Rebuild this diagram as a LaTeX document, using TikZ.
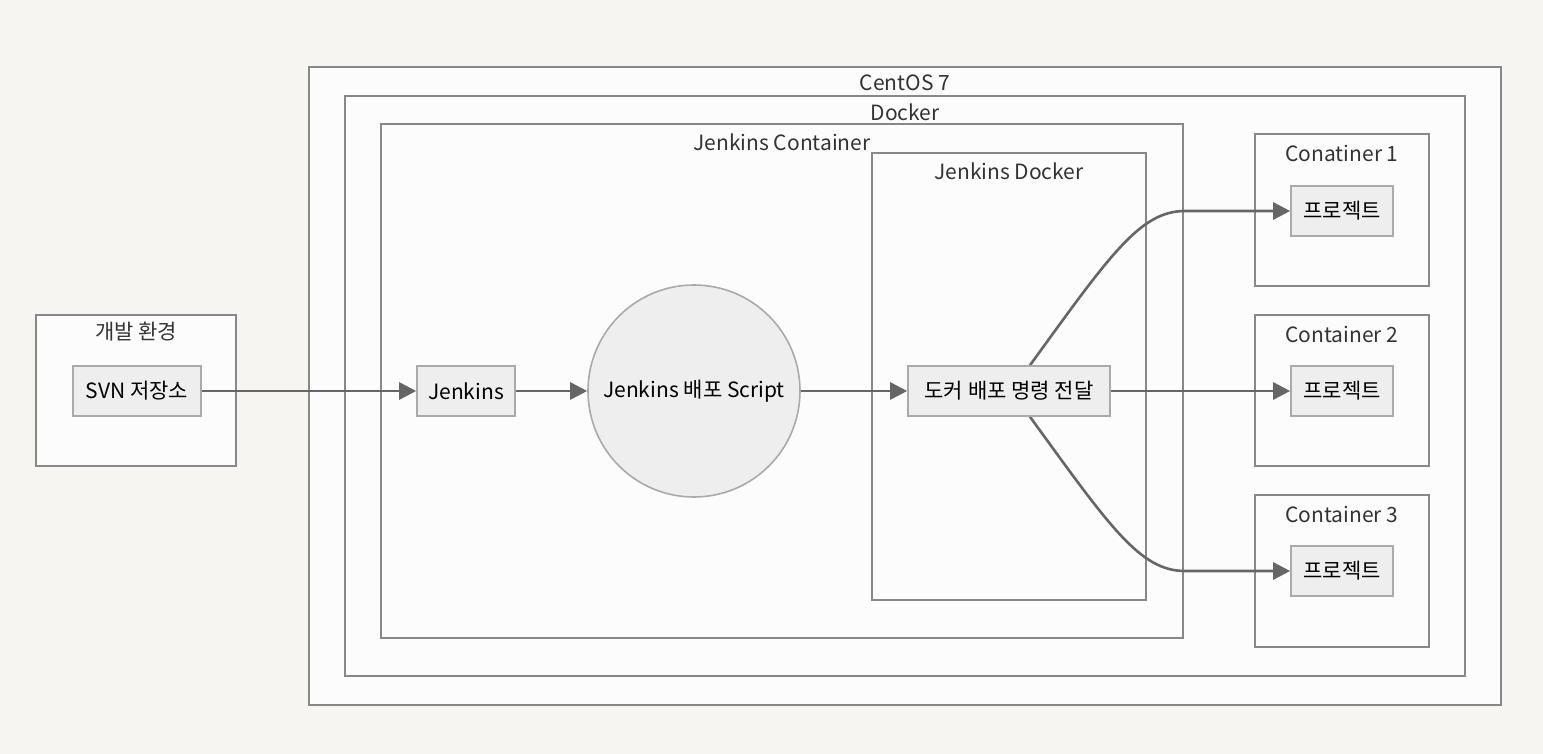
\documentclass[tikz,border=0pt]{standalone}
\usepackage{fontspec}
\setmainfont{Noto Sans CJK KR}
\usetikzlibrary{arrows.meta}
\definecolor{bgc}{HTML}{F6F5F1}
\definecolor{clfill}{HTML}{FCFCFC}
\definecolor{clline}{HTML}{888888}
\definecolor{ndfill}{HTML}{EEEEEE}
\definecolor{ndline}{HTML}{AAAAAA}
\definecolor{edgec}{HTML}{666666}
\definecolor{txtc}{HTML}{333333}
\tikzset{
  cluster/.style={draw=clline, fill=clfill, line width=1.6pt},
  cllabel/.style={anchor=center, text=txtc, font=\fontsize{21pt}{23pt}\selectfont, inner sep=0pt},
  box/.style={draw=ndline, fill=ndfill, line width=1.6pt, rectangle, inner sep=0pt, font=\fontsize{21pt}{23pt}\selectfont, text=black},
  flow/.style={draw=edgec, line width=2.6pt, -{Triangle[length=17pt,width=17pt]}},
}
\begin{document}
\begin{tikzpicture}[x=1pt,y=-1pt]
\fill[bgc] (0,0) rectangle (1543,754);
\useasboundingbox (0,0) rectangle (1543,754);
% clusters
\draw[cluster] (309,67) rectangle (1501,705);
\node[cllabel] (lcentos) at (905,83) {CentOS 7};
\draw[cluster] (345,96) rectangle (1465,676);
\node[cllabel] (ldocker) at (905,112) {Docker};
\draw[cluster] (381,124) rectangle (1183,638);
\node[cllabel] (ljc) at (782,142) {Jenkins Container};
\draw[cluster] (872,153) rectangle (1146,600);
\node[cllabel] (ljd) at (1009,171) {Jenkins Docker};
\draw[cluster] (36,315) rectangle (236,466);
\node[cllabel] (ldev) at (136,332) {개발 환경};
\draw[cluster] (1255,134) rectangle (1429,286);
\node[cllabel] (lc1) at (1342,153) {Conatiner 1};
\draw[cluster] (1255,315) rectangle (1429,466);
\node[cllabel] (lc2) at (1342,334) {Container 2};
\draw[cluster] (1255,495) rectangle (1429,647);
\node[cllabel] (lc3) at (1342,514) {Container 3};
% nodes
\node[box, minimum width=128pt, minimum height=50pt] (svn) at (137,391) {SVN 저장소};
\node[box, minimum width=98pt, minimum height=50pt] (jenkins) at (466,391) {Jenkins};
\node[box, circle, minimum size=212pt] (script) at (694,391) {Jenkins 배포 Script};
\node[box, minimum width=202pt, minimum height=50pt] (cmd) at (1009,391) {도커 배포 명령 전달};
\node[box, minimum width=102pt, minimum height=50pt] (p1) at (1342,211) {프로젝트};
\node[box, minimum width=102pt, minimum height=50pt] (p2) at (1342,391) {프로젝트};
\node[box, minimum width=102pt, minimum height=50pt] (p3) at (1342,571) {프로젝트};
% edges
\draw[flow] (svn.east) -- (jenkins.west);
\draw[flow] (jenkins.east) -- (script.west);
\draw[flow] (script.east) -- (cmd.west);
\draw[flow] (cmd.east) -- (p2.west);
\coordinate (c1) at (1185,211);
\coordinate (c3) at (1185,571);
\draw[flow] ([xshift=21pt]cmd.north) .. controls (1110,255) and (1140,211) .. (c1) -- (p1.west);
\draw[flow] ([xshift=21pt]cmd.south) .. controls (1110,527) and (1140,571) .. (c3) -- (p3.west);
% redraw node over edges
\node[box, minimum width=202pt, minimum height=50pt] at (cmd) {도커 배포 명령 전달};
\end{tikzpicture}
\end{document}
